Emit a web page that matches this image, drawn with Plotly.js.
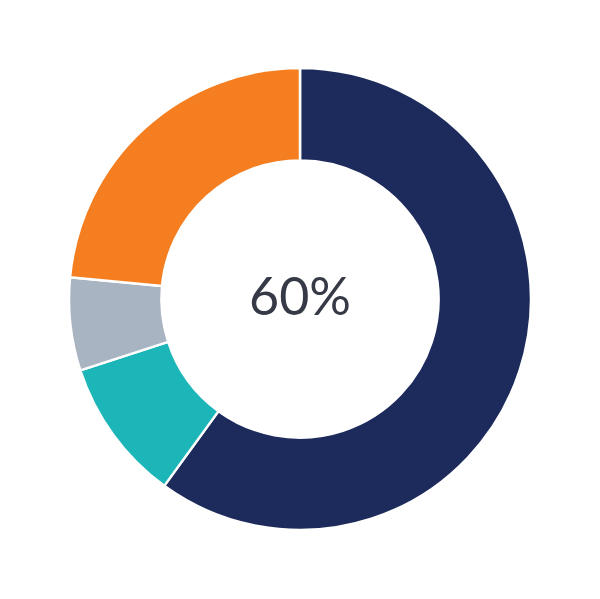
<!DOCTYPE html>
<html>
<head>
<meta charset="utf-8">
<script src="https://cdn.plot.ly/plotly-3.0.1.min.js"></script>
<style>
  html, body { margin: 0; padding: 0; background: #ffffff; }
  #chart { width: 600px; height: 599px; }
</style>
</head>
<body>
<div id="chart"></div>
<script>
'use strict';

// slice values (percent)
const labels = ['Navy', 'Teal', 'Grey', 'Orange'];
const values = [60, 10, 6.5, 23.5];
const colors = ['#1c2b5b', '#1cb6b8', '#a9b4c2', '#f47e20'];
const centerText = '60%';

document.addEventListener('DOMContentLoaded', function() {
	const trace = {
		type: 'pie',
		labels: labels,
		values: values,
		hole: 0.6,
		sort: false,
		direction: 'clockwise',
		rotation: 0,
		textinfo: 'none',
		hoverinfo: 'label+percent',
		marker: {
			colors: colors,
			line: { color: '#ffffff', width: 2.5 }
		}
	};

	const layout = {
		width: 600,
		height: 599,
		margin: { l: 69, r: 69, t: 68, b: 69 },
		showlegend: false,
		paper_bgcolor: '#ffffff',
		annotations: [{
			text: centerText,
			x: 0.5,
			y: 0.508,
			xref: 'paper',
			yref: 'paper',
			showarrow: false,
			font: { family: 'Lato, sans-serif', size: 52, color: '#363a46', weight: 400 }
		}]
	};

	Plotly.newPlot('chart', [trace], layout, { displayModeBar: false, staticPlot: true });
});
</script>
</body>
</html>
